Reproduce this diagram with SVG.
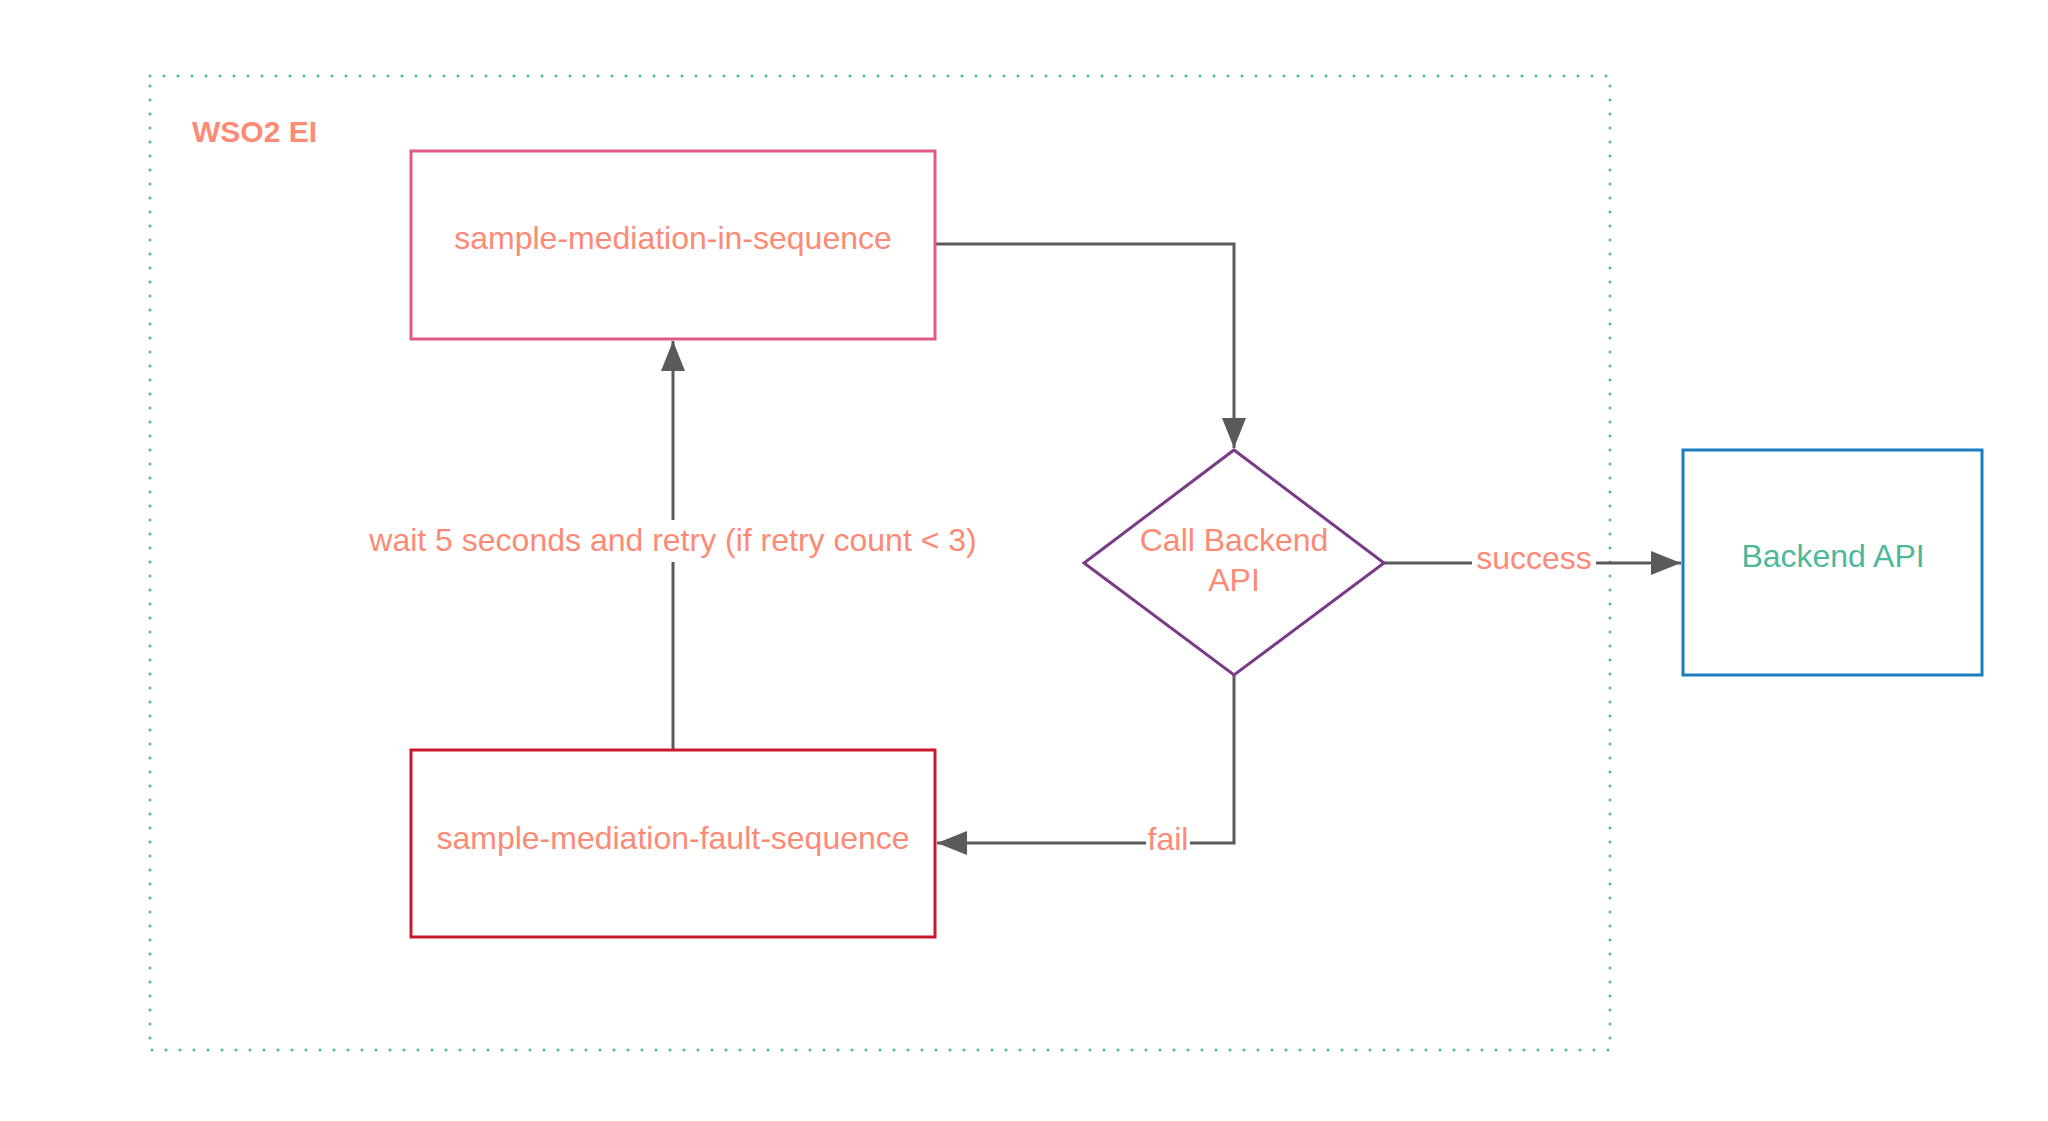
<svg xmlns="http://www.w3.org/2000/svg" width="2048" height="1121" viewBox="0 0 2048 1121">
<style>
text{font-family:"Liberation Sans",Arial,sans-serif;font-size:32px;fill:#fd8a75;text-anchor:middle}
.edge{fill:none;stroke:#5a5a5a;stroke-width:3}
.lbl{fill:#fff}
</style>
<defs>
<marker id="ah" markerWidth="10" markerHeight="10" refX="9" refY="5" orient="auto" markerUnits="userSpaceOnUse" viewBox="0 0 10 10">
<path d="M0,0 L10,5 L0,10 Z" fill="#5a5a5a"/>
</marker>
<marker id="a" viewBox="0 0 30 24" refX="30" refY="12" markerWidth="30" markerHeight="24" orient="auto" markerUnits="userSpaceOnUse"><path d="M0,0 L30,12 L0,24 Z" fill="#5a5a5a"/></marker>
</defs>
<rect width="2048" height="1121" fill="#fff"/>
<g id="container">
<rect x="150" y="76" width="1460" height="974" fill="none" stroke="#4dbb9c" stroke-width="3" stroke-dasharray="0 14" stroke-linecap="round"/>
<text x="192" y="142" style="font-weight:bold;text-anchor:start;font-size:30px">WSO2 EI</text>
</g>
<g id="connectors">
<path class="edge" d="M935,244 H1234 V448" marker-end="url(#a)"/>
<path class="edge" d="M673,750 V341" marker-end="url(#a)"/>
<path class="edge" d="M1234,675 V843 H937" marker-end="url(#a)"/>
<path class="edge" d="M1384,563 H1681" marker-end="url(#a)"/>
<rect class="lbl" x="348" y="520" width="650" height="42"/>
<text x="673" y="551">wait 5 seconds and retry (if retry count &lt; 3)</text>
<rect class="lbl" x="1146" y="824" width="44" height="36"/>
<text x="1168" y="850">fail</text>
<rect class="lbl" x="1472" y="544" width="124" height="36"/>
<text x="1534" y="569">success</text>
</g>
<g id="in-sequence">
<rect x="411" y="151" width="524" height="188" fill="#fff" stroke="#e15a86" stroke-width="3"/>
<text x="673" y="249">sample-mediation-in-sequence</text>
</g>
<g id="fault-sequence">
<rect x="411" y="750" width="524" height="187" fill="#fff" stroke="#c9182b" stroke-width="3"/>
<text x="673" y="849">sample-mediation-fault-sequence</text>
</g>
<g id="call-backend">
<path d="M1234,450 L1384,563 L1234,675 L1084,563 Z" fill="#fff" stroke="#7b3a87" stroke-width="3"/>
<text x="1234" y="551">Call Backend</text>
<text x="1234" y="591">API</text>
</g>
<g id="backend-api">
<rect x="1683" y="450" width="299" height="225" fill="#fff" stroke="#1a7dc0" stroke-width="3"/>
<text x="1833" y="567" style="fill:#4cb89a">Backend API</text>
</g>
</svg>
